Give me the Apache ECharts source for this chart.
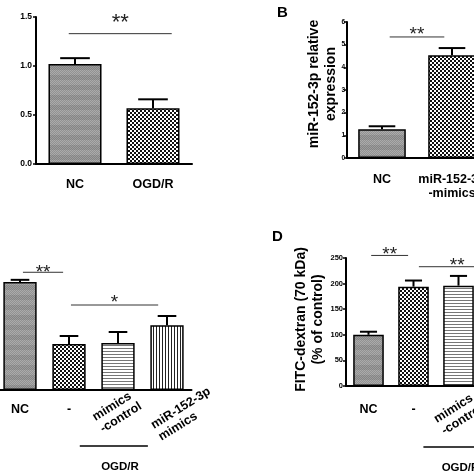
<!DOCTYPE html>
<html>
<head>
<meta charset="utf-8">
<script src="https://cdn.jsdelivr.net/npm/echarts@6/dist/echarts.min.js"></script>
<style>
  html, body { margin: 0; padding: 0; background: #fff; }
  #main { width: 474px; height: 474px; }
</style>
</head>
<body>
<div id="main"></div>
<script>
// A
var catA = ['NC', 'OGD/R'];
var valA = [1.02, 0.57];
var errA = [1.08, 0.66];
// B
var catB = ['NC', 'miR-152-3p\n-mimics'];
var valB = [1.27, 4.53];
var errB = [1.4, 4.85];
// C
var catC = ['NC', '-', 'mimics\n-control', 'miR-152-3p\nmimics'];
var valC = [100, 42.6, 43.5, 60];
var errC = [102, 50, 53.7, 68.5];
// D
var catD = ['NC', '-', 'mimics\n-control', 'miR-152-3p\nmimics'];
var valD = [100, 194, 196, null];
var errD = [106, 206, 215, null];

// significance: [from, dxFrom, to, dxTo, lineY, textY, label]
var sigA = [[0, -0.08, 1, 0.24, 1.33, 1.51, '**']];
var sigB = [[0, 0.11, 1, -0.11, 5.34, 5.69, '**']];
var sigC = [[0, 0.06, 1, -0.12, 109, 114, '**'], [1, 0.04, 3, -0.18, 78.7, 86, '*']];
var sigD = [[0, 0.06, 1, -0.12, 255, 268, '**'], [1, 0.12, 3, -0.18, 233, 245, '**']];
var groupLabel = 'OGD/R';

var SANS = '"Liberation Sans", Arial, sans-serif';

function tile(w, h, draw) {
  var c = document.createElement('canvas');
  c.width = w;
  c.height = h;
  draw(c.getContext('2d'));
  return { image: c, repeat: 'repeat' };
}

var fills = {
  grey: tile(4, 10, function (g) {
    for (var y = 0; y < 10; y++) {
      for (var x = 0; x < 4; x++) {
        var light = (x + y) % 2 === 0;
        g.fillStyle = y < 5 ? (light ? '#ababab' : '#929292') : (light ? '#9c9c9c' : '#858585');
        g.fillRect(x, y, 1, 1);
      }
    }
  }),
  checker: tile(4, 4, function (g) {
    g.fillStyle = '#111';
    g.fillRect(0, 0, 4, 4);
    g.fillStyle = '#fff';
    g.fillRect(0, 0, 2, 2);
    g.fillRect(2, 2, 2, 2);
  }),
  hline: tile(1, 3, function (g) {
    g.fillStyle = '#fff';
    g.fillRect(0, 0, 1, 3);
    g.fillStyle = '#777';
    g.fillRect(0, 0, 1, 1);
  }),
  vline: tile(3, 1, function (g) {
    g.fillStyle = '#fff';
    g.fillRect(0, 0, 3, 1);
    g.fillStyle = '#222';
    g.fillRect(0, 0, 1, 1);
  })
};

var grids = [], xAxes = [], yAxes = [], series = [];

function axisLine(show) {
  return { show: show, lineStyle: { color: '#000', width: 2 } };
}

function panel(p) {
  var gi = grids.length;
  grids.push({ left: p.left, top: p.top, width: p.width, height: p.height, outerBoundsMode: 'none' });
  var xi = xAxes.length;
  xAxes.push({
    type: 'category', gridIndex: gi, data: p.cats, position: 'bottom',
    axisLine: axisLine(true),
    axisTick: { alignWithLabel: true, length: 4, lineStyle: { color: '#000', width: 1.5 } },
    axisLabel: {
      interval: 0, margin: p.xMargin, color: '#000', fontFamily: SANS, fontWeight: 'bold',
      fontSize: 12.5, lineHeight: 14,
      formatter: function (v, i) { return p.rot == null || !p.rot[i] ? v : ''; }
    }
  });
  var yi = yAxes.length;
  yAxes.push({
    type: 'value', gridIndex: gi, min: p.min, max: p.max, interval: p.step, show: p.yShow !== false,
    splitLine: { show: false },
    axisLine: axisLine(true),
    axisTick: { show: true, length: 3, lineStyle: { color: '#000', width: 1.5 } },
    axisLabel: {
      margin: p.yMargin, color: '#000', fontFamily: SANS, fontWeight: 'bold', fontSize: p.yFont,
      formatter: p.yFmt
    },
    name: p.yName, nameLocation: 'middle', nameRotate: 90, nameGap: p.nameGap, nameMoveOverlap: false,
    nameTextStyle: { color: '#000', fontFamily: SANS, fontWeight: 'bold', fontSize: 14, lineHeight: 17, padding: p.namePad || 0 }
  });

  series.push({
    type: 'bar', xAxisIndex: xi, yAxisIndex: yi, barWidth: '68%',
    itemStyle: { borderColor: '#000', borderWidth: 1.5 },
    data: p.vals.map(function (v, k) {
      return { value: v, itemStyle: { color: fills[p.fills[k]] } };
    })
  });

  series.push({
    type: 'custom', xAxisIndex: xi, yAxisIndex: yi, z: 5,
    data: p.vals.map(function (v, k) { return [k, v, p.errs[k]]; }).filter(function (d) { return d[1] != null; }),
    renderItem: function (params, api) {
      var base = api.coord([api.value(0), api.value(1)]);
      var top = api.coord([api.value(0), api.value(2)]);
      var half = api.size([1, 0])[0] * 0.19;
      var st = { stroke: '#000', lineWidth: 2 };
      return {
        type: 'group', children: [
          { type: 'line', shape: { x1: base[0], y1: base[1], x2: top[0], y2: top[1] }, style: st },
          { type: 'line', shape: { x1: top[0] - half, y1: top[1], x2: top[0] + half, y2: top[1] }, style: st }
        ]
      };
    }
  });

  series.push({
    type: 'custom', xAxisIndex: xi, yAxisIndex: yi, z: 5,
    data: p.sig.map(function (s) { return [s[0], s[4]]; }),
    renderItem: function (params, api) {
      var s = p.sig[params.dataIndex];
      var band = api.size([1, 0])[0];
      var a = api.coord([s[0], s[4]]);
      var b = api.coord([s[2], s[4]]);
      var t = api.coord([s[0], s[5]]);
      var x0 = a[0] + s[1] * band, x1 = b[0] + s[3] * band;
      return {
        type: 'group', children: [
          { type: 'line', shape: { x1: x0, y1: a[1], x2: x1, y2: a[1] }, style: { stroke: '#333', lineWidth: 1 } },
          {
            type: 'text', x: (x0 + x1) / 2, y: t[1] + p.starSize * 0.3,
            style: { text: s[6], align: 'center', verticalAlign: 'middle', fill: '#222', fontFamily: SANS, fontSize: p.starSize }
          }
        ]
      };
    }
  });

  if (p.rot) {
    // slanted category labels, anchored at their tick
    series.push({
      type: 'custom', xAxisIndex: xi, yAxisIndex: yi, z: 5,
      data: p.cats.map(function (c, k) { return [k, 0]; }).filter(function (d) { return p.rot[d[0]]; }),
      renderItem: function (params, api) {
        var k = api.value(0);
        var pt = api.coord([k, 0]);
        var off = p.rot[k];
        return {
          type: 'text', x: pt[0] + off[0], y: pt[1] + off[1], rotation: 32 * Math.PI / 180,
          style: {
            text: p.cats[k], align: 'left', verticalAlign: 'middle', lineHeight: 14,
            fill: '#000', fontFamily: SANS, fontWeight: 'bold', fontSize: 12.5
          }
        };
      }
    });
  }

  if (p.bracket) {
    series.push({
      type: 'custom', xAxisIndex: xi, yAxisIndex: yi, z: 5,
      data: [[1, 0]],
      renderItem: function (params, api) {
        var band = api.size([1, 0])[0];
        var a = api.coord([1, 0]), b = api.coord([3, 0]), m = api.coord([2, 0]);
        var y = a[1] + p.bracket;
        return {
          type: 'group', children: [
            { type: 'line', shape: { x1: a[0] + 0.22 * band, y1: y, x2: b[0] - 0.39 * band, y2: y }, style: { stroke: '#000', lineWidth: 1.5 } },
            {
              type: 'text', x: m[0] + 2, y: y + 21,
              style: { text: groupLabel, align: 'center', verticalAlign: 'middle', fill: '#000', fontFamily: SANS, fontWeight: 'bold', fontSize: 11.5 }
            }
          ]
        };
      }
    });
  }
}

panel({
  cats: catA, vals: valA, errs: errA, sig: sigA, fills: ['grey', 'checker'],
  left: 36, top: 17, width: 156, height: 147, min: 0, max: 1.5, step: 0.5,
  yFont: 8.5, yMargin: 4, xMargin: 14, starSize: 22,
  yFmt: function (v) { return v.toFixed(1); }
});
panel({
  cats: catB, vals: valB, errs: errB, sig: sigB, fills: ['grey', 'checker'],
  left: 347, top: 22, width: 140, height: 136, min: 0, max: 6, step: 1,
  yFont: 6.5, yMargin: 2, xMargin: 15, starSize: 19,
  yName: 'miR-152-3p relative\nexpression', nameGap: 7, namePad: [0, 0, 0, 12]
});
panel({
  cats: catC, vals: valC, errs: errC, sig: sigC, fills: ['grey', 'checker', 'hline', 'vline'],
  left: -4.5, top: 255, width: 196, height: 135, min: 0, max: 125, step: 25, yShow: false,
  yFont: 8, yMargin: 3, xMargin: 13, starSize: 19, bracket: 56,
  rot: [null, null, [-20.5, 34], [-11, 42]]
});
panel({
  cats: catD, vals: valD, errs: errD, sig: sigD, fills: ['grey', 'checker', 'hline', 'vline'],
  left: 346, top: 258, width: 180, height: 128, min: 0, max: 250, step: 50,
  yFont: 7.5, yMargin: 3, xMargin: 17, starSize: 19, bracket: 61,
  rot: [null, null, [-19.5, 40], [-11, 46]],
  yName: 'FITC-dextran (70 kDa)\n(% of control)', nameGap: 19, namePad: [0, 0, 0, 5]
});

var chart = echarts.init(document.getElementById('main'));
chart.setOption({
  animation: false,
  backgroundColor: '#fff',
  grid: grids,
  xAxis: xAxes,
  yAxis: yAxes,
  series: series,
  graphic: [
    { type: 'text', left: 277, top: 5, style: { text: 'B', fill: '#000', fontFamily: SANS, fontWeight: 'bold', fontSize: 15 } },
    { type: 'text', left: 272, top: 229, style: { text: 'D', fill: '#000', fontFamily: SANS, fontWeight: 'bold', fontSize: 15 } }
  ]
});
</script>
</body>
</html>
